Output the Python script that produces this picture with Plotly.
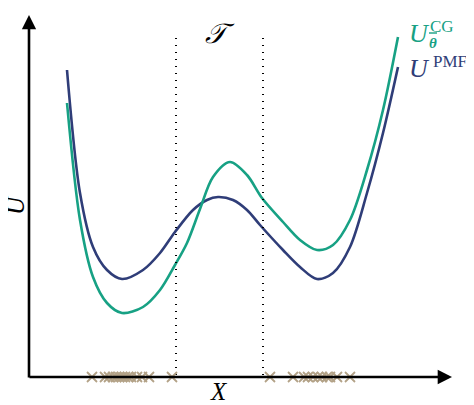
import plotly.graph_objects as go

# Curve samples (X horizontal, U vertical, arbitrary units)
x_pmf = [67, 80, 93, 107, 122, 143, 160, 175, 193, 207, 218, 233, 247, 260, 283, 300, 317, 333, 350, 367, 383, 398]
u_pmf = [335, 212, 158, 135, 126, 135, 152, 173, 195, 205, 208, 205, 195, 180, 155, 138, 126, 132, 158, 212, 272, 338]

x_cg = [67, 80, 93, 107, 122, 143, 160, 175, 187, 200, 213, 230, 247, 262, 283, 300, 317, 333, 350, 367, 383, 398]
u_cg = [302, 185, 128, 102, 92, 98, 115, 140, 162, 196, 228, 243, 230, 207, 183, 165, 155, 160, 185, 235, 295, 368]

# Sample positions along the X axis
samples_left = [92, 105, 109, 113, 116, 119, 122, 125, 128, 131, 137, 142, 149, 172]
samples_right = [270, 293, 304, 308, 313, 318, 322, 327, 330, 337, 350]

# Boundaries of the transition region T
t_bounds = [176, 263]

BLUE = "#2f3d78"
TEAL = "#17a184"
TAN = "#b3a287"
X0, Y0 = 29, 28  # axis origin

fig = go.Figure()
fig.add_trace(go.Scatter(x=x_pmf, y=u_pmf, mode="lines", line=dict(color=BLUE, width=2.6, shape="spline", smoothing=0.9), showlegend=False))
fig.add_trace(go.Scatter(x=x_cg, y=u_cg, mode="lines", line=dict(color=TEAL, width=2.6, shape="spline", smoothing=0.9), showlegend=False))

for xb in t_bounds:
    fig.add_trace(go.Scatter(x=[xb, xb], y=[Y0 + 2, 370], mode="lines",
                             line=dict(color="black", width=2, dash="1px,6px"), showlegend=False))

# axes
fig.add_annotation(x=452, y=Y0, ax=X0 - 1, ay=Y0, xref="x", yref="y", axref="x", ayref="y",
                   showarrow=True, arrowhead=2, arrowsize=1.1, arrowwidth=2.6, arrowcolor="black", text="")
fig.add_annotation(x=X0, y=390, ax=X0, ay=Y0 - 2, xref="x", yref="y", axref="x", ayref="y",
                   showarrow=True, arrowhead=2, arrowsize=1.1, arrowwidth=2.6, arrowcolor="black", text="")

fig.add_trace(go.Scatter(x=samples_left + samples_right, y=[Y0] * (len(samples_left) + len(samples_right)),
                         mode="markers", marker=dict(symbol="x-thin", size=10, line=dict(color=TAN, width=1.8)),
                         showlegend=False))

serif = "Liberation Serif"
fig.add_annotation(x=219, y=14, text="<i>X</i>", showarrow=False, font=dict(family=serif, size=25, color="black"))
fig.add_annotation(x=15, y=200, text="<i>U</i>", textangle=-90, showarrow=False, font=dict(family=serif, size=25, color="black"))
fig.add_annotation(x=220, y=372, text="<i>𝒯</i>", showarrow=False, font=dict(family="DejaVu Serif", size=28, color="black"))

# labels for the curves
fig.add_annotation(x=419, y=372, text="<i>U</i>", showarrow=False, font=dict(family=serif, size=26, color=TEAL))
fig.add_annotation(x=442, y=379, text="CG", showarrow=False, font=dict(family=serif, size=17, color=TEAL))
fig.add_annotation(x=433, y=362, text="<b><i>θ</i></b>", showarrow=False, font=dict(family=serif, size=15, color=TEAL))
fig.add_shape(type="line", x0=429, x1=437, y0=372, y1=372, xref="x", yref="y", line=dict(color=TEAL, width=1.4))
fig.add_annotation(x=419, y=337, text="<i>U</i>", showarrow=False, font=dict(family=serif, size=26, color=BLUE))
fig.add_annotation(x=450, y=344, text="PMF", showarrow=False, font=dict(family=serif, size=17, color=BLUE))

# page body has an 8px margin: shift ranges so data units line up with the window
fig.update_xaxes(range=[8, 474], visible=False, fixedrange=True)
fig.update_yaxes(range=[0, 397], visible=False, fixedrange=True)
fig.update_layout(width=466, height=397, margin=dict(l=0, r=0, t=0, b=0),
                  plot_bgcolor="white", paper_bgcolor="white")
fig.write_html("out.html")
